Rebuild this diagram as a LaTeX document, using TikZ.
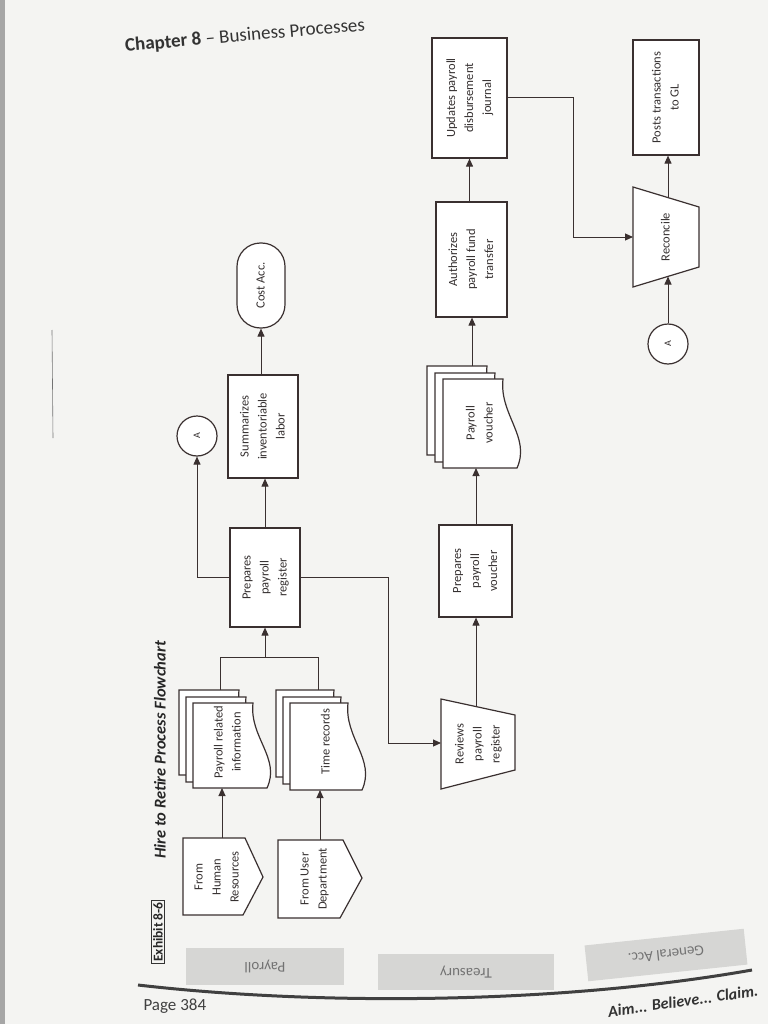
\documentclass[tikz,border=0pt]{standalone}
\usepackage{fontspec}
\setmainfont{Carlito}
\usepackage{graphicx}
\usetikzlibrary{arrows.meta}
\definecolor{ln}{HTML}{3A3030}
\definecolor{tx}{HTML}{353030}
\definecolor{paper}{HTML}{F4F4F2}
\definecolor{lanefill}{HTML}{D6D6D4}
\newcommand{\rt}[1]{\rotatebox{90}{\begin{tabular}{@{}c@{}}#1\end{tabular}}}
\newcommand{\docpath}[4]{%
  \filldraw[shapeline, fill=white] (#1,#2) -- ({#3-14},#2) .. controls ({#3-18},{#2+0.4*(#4-#2)}) and ({#3+14},{#4-0.35*(#4-#2)}) .. (#3,#4) -- (#1,#4) -- cycle;}
\begin{document}
\begin{tikzpicture}[x=1pt,y=-1pt,
  shapeline/.style={draw=ln, line width=1.2pt},
  procbox/.style={shapeline, fill=white, inner sep=0pt, font=\fontsize{12.5}{18}\selectfont, text=tx},
  lbl/.style={inner sep=0pt, font=\fontsize{12.5}{18}\selectfont, text=tx},
  arr/.style={draw=ln, line width=1pt, -{Triangle[width=7pt,length=8pt]}},
  plain/.style={draw=ln, line width=1pt},
  lanebox/.style={fill=lanefill, inner sep=0pt, font=\fontsize{15}{17}\selectfont, text=black!55},
  conn/.style={circle, shapeline, fill=white, minimum size=40pt, inner sep=0pt, font=\fontsize{10}{11}\selectfont, text=tx}
]
\fill[paper] (0,0) rectangle (768,1024);
\useasboundingbox (0,0) rectangle (768,1024);
\fill[black!35] (0,0) rectangle (5,1024);
\draw[black!55, line width=0.6pt] (52,330) -- (53,438);

% headings
\node[font=\fontsize{19}{21}\selectfont, text=black!80, rotate=5] (chap) at (245,36) {\textbf{Chapter 8} – Business Processes};
\node[font=\fontsize{16.5}{18}\selectfont\bfseries\itshape, rotate=90, text=black!85] (ttl) at (160,750) {Hire to Retire Process Flowchart};
\node[draw=black!80, line width=0.8pt, rotate=90, font=\fontsize{13.5}{15}\selectfont\bfseries, text=black!85, inner sep=1.5pt] (exh) at (158,932) {Exhibit 8-6};

% lanes
\node[lanebox, minimum width=158pt, minimum height=37pt, rotate=180] (lane1) at (265,966) {Payroll};
\node[lanebox, minimum width=176pt, minimum height=36pt, rotate=180] (lane2) at (466,972) {Treasury};
\node[lanebox, minimum width=160pt, minimum height=36pt, rotate=186] (lane3) at (666,955) {General Acc.};

% footer
\draw[line width=3pt, black!75] (138,985) .. controls (320,1006) and (560,1004) .. (752,970);
\node[font=\fontsize{17}{19}\selectfont, text=black!75, anchor=west] (pg) at (140,1006) {Page 384};
\node[font=\fontsize{16}{18}\selectfont\bfseries\itshape, rotate=8, text=black!80] (aim) at (683,1001) {Aim... Believe... Claim.};

% off-page connectors
\filldraw[shapeline, fill=white] (183,838) -- (245,838) -- (263,877) -- (243,915) -- (183,915) -- cycle;
\node[lbl] (hr) at (217,877) {\rt{From\\Human\\Resources}};
\filldraw[shapeline, fill=white] (278,840) -- (343,840) -- (362,878) -- (340,918) -- (278,918) -- cycle;
\node[lbl] (ud) at (314,879) {\rt{From User\\Department}};

% documents
\docpath{179}{690}{253}{775}
\docpath{186}{697}{260}{782}
\docpath{193}{703}{267}{788}
\node[lbl] (pri) at (228,742) {\rt{Payroll related\\information}};
\docpath{276}{690}{348}{777}
\docpath{283}{697}{355}{784}
\docpath{290}{703}{362}{790}
\node[lbl] (trec) at (326,742) {\rt{Time records}};
\docpath{427}{366}{501}{455}
\docpath{435}{373}{509}{462}
\docpath{443}{379}{517}{468}
\node[lbl] (pv) at (480,423) {\rt{Payroll\\voucher}};

% process boxes
\node[procbox, minimum width=70pt, minimum height=99pt] (ppr) at (265,577.5) {\rt{Prepares\\payroll\\register}};
\node[procbox, minimum width=70pt, minimum height=103pt] (sil) at (263,426.5) {\rt{Summarizes\\inventoriable\\labor}};
\node[procbox, minimum width=48pt, minimum height=85pt, rounded corners=23.5pt] (cost) at (261,285.5) {\rt{Cost Acc.}};
\node[conn] (a1) at (197,436) {\rotatebox{90}{A}};
\node[procbox, minimum width=73pt, minimum height=92pt] (ppv) at (475.5,571) {\rt{Prepares\\payroll\\voucher}};
\node[procbox, minimum width=71pt, minimum height=115pt] (afr) at (471.5,259.5) {\rt{Authorizes\\payroll fund\\transfer}};
\node[procbox, minimum width=75pt, minimum height=120pt] (upd) at (469.5,98) {\rt{Updates payroll\\disbursement\\journal}};
\node[procbox, minimum width=66pt, minimum height=115pt] (posts) at (666,97.5) {\rt{Posts transactions\\to GL}};
\node[conn] (a2) at (668,344) {\rotatebox{90}{A}};

% manual operations
\filldraw[shapeline, fill=white] (441,699) -- (515,715) -- (515,770) -- (441,789) -- cycle;
\node[lbl] (rpr) at (478,744) {\rt{Reviews\\payroll\\register}};
\filldraw[shapeline, fill=white] (633,187) -- (699,207) -- (699,267) -- (633,287) -- cycle;
\node[lbl] (rec) at (666,237) {\rt{Reconcile}};

% connection points
\coordinate (hrT) at (222,838);
\coordinate (priB) at (222,788);
\coordinate (udT) at (320,840);
\coordinate (trB) at (320,790);
\coordinate (priT) at (220,690);
\coordinate (trT) at (318,690);
\coordinate (tee) at (265,657);
\coordinate (rprW) at (441,743);
\coordinate (rprN) at (476,707);
\coordinate (pvB) at (476,468);
\coordinate (pvT) at (472,366);
\coordinate (recW) at (633,237);
\coordinate (recN) at (668,197.5);
\coordinate (recS) at (668,276.5);

% connectors
\draw[arr] (hrT) -- (priB);
\draw[arr] (udT) -- (trB);
\draw[plain] (priT) -- (priT |- tee) -- (trT |- tee) -- (trT);
\draw[arr] (tee) -- (ppr.south);
\draw[arr] (ppr.north) -- (ppr.north |- sil.south);
\draw[arr] (sil.north -| cost.south) -- (cost.south);
\draw[arr] (ppr.west) -| (a1.south);
\draw[arr] (ppr.east) -- (388,577.5) |- (rprW);
\draw[arr] (rprN) -- (rprN |- ppv.south);
\draw[arr] (ppv.north -| pvB) -- (pvB);
\draw[arr] (pvT) -- (pvT |- afr.south);
\draw[arr] (afr.north -| upd.south) -- (upd.south);
\draw[arr] (upd.east) -- (573,98) |- (recW);
\draw[arr] (recN) -- (recN |- posts.south);
\draw[arr] (a2.north) -- (recS);
\end{tikzpicture}
\end{document}
